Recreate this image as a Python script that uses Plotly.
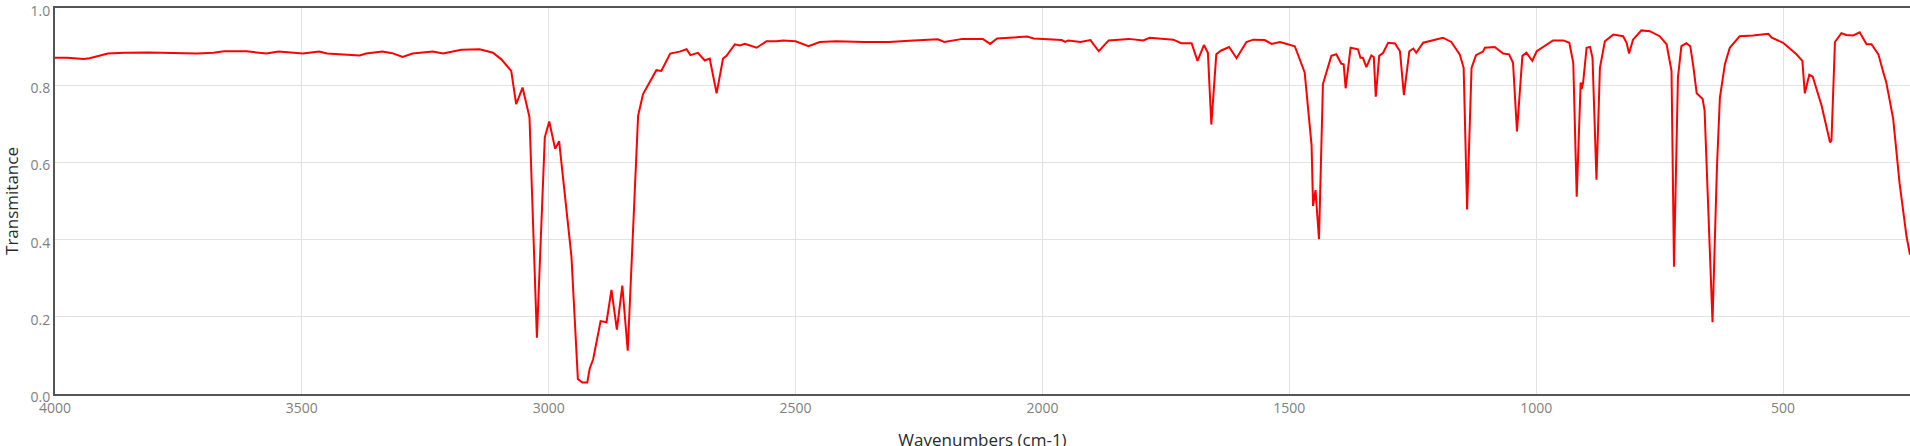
import plotly.graph_objects as go

wavenumbers = [
    4000, 3975, 3942, 3930, 3893, 3860, 3811, 3761, 3712, 3679, 3658, 3613, 3572, 3547, 3498, 3465,
    3449, 3383, 3370, 3337, 3317, 3296, 3276, 3235, 3214, 3177, 3140, 3113, 3096, 3076, 3066, 3053,
    3039, 3024, 3008, 2999, 2987, 2979, 2954, 2941, 2932, 2922, 2917, 2910, 2895, 2883, 2873, 2862,
    2851, 2840, 2819, 2809, 2796, 2782, 2772, 2754, 2735, 2721, 2713, 2698, 2684, 2674, 2660, 2647,
    2640, 2623, 2613, 2603, 2579, 2559, 2539, 2525, 2500, 2474, 2451, 2418, 2360, 2311, 2261, 2212,
    2199, 2162, 2121, 2106, 2092, 2031, 2018, 1989, 1961, 1954, 1948, 1923, 1903, 1886, 1866, 1825,
    1796, 1783, 1735, 1719, 1698, 1686, 1673, 1665, 1658, 1648, 1638, 1622, 1607, 1587, 1573, 1550,
    1536, 1519, 1489, 1469, 1455, 1452, 1447, 1440, 1432, 1415, 1405, 1395, 1390, 1386, 1376, 1361,
    1356, 1351, 1344, 1334, 1329, 1325, 1318, 1310, 1300, 1286, 1276, 1268, 1257, 1249, 1243, 1229,
    1189, 1172, 1155, 1147, 1140, 1131, 1122, 1108, 1104, 1084, 1067, 1055, 1047, 1039, 1028, 1020,
    1008, 999, 979, 966, 945, 933, 925, 918, 910, 908, 905, 898, 891, 886, 878, 871,
    861, 844, 824, 817, 812, 804, 787, 770, 750, 736, 726, 721, 713, 706, 696, 688,
    682, 675, 663, 659, 643, 634, 628, 618, 608, 588, 561, 530, 523, 500, 473, 461,
    456, 447, 440, 422, 405, 402, 395, 382, 372, 358, 345, 331, 321, 307, 297, 291,
    284, 277, 264, 250, 243,
]

transmitance = [
    0.871, 0.871, 0.868, 0.870, 0.882, 0.884, 0.885, 0.884, 0.882, 0.884, 0.888, 0.888, 0.882, 0.887, 0.882, 0.887,
    0.882, 0.877, 0.882, 0.887, 0.883, 0.873, 0.882, 0.887, 0.882, 0.892, 0.893, 0.884, 0.867, 0.837, 0.751, 0.794,
    0.717, 0.146, 0.665, 0.706, 0.635, 0.655, 0.356, 0.039, 0.030, 0.030, 0.066, 0.090, 0.189, 0.186, 0.270, 0.167,
    0.281, 0.112, 0.721, 0.777, 0.807, 0.839, 0.837, 0.882, 0.887, 0.893, 0.878, 0.884, 0.864, 0.869, 0.779, 0.869,
    0.876, 0.906, 0.903, 0.907, 0.897, 0.914, 0.914, 0.916, 0.914, 0.901, 0.912, 0.914, 0.912, 0.912, 0.916, 0.919,
    0.912, 0.920, 0.920, 0.907, 0.921, 0.926, 0.921, 0.919, 0.917, 0.912, 0.916, 0.912, 0.917, 0.888, 0.916, 0.920,
    0.916, 0.923, 0.918, 0.909, 0.909, 0.863, 0.904, 0.884, 0.698, 0.880, 0.890, 0.899, 0.870, 0.912, 0.918, 0.917,
    0.907, 0.912, 0.901, 0.833, 0.644, 0.487, 0.528, 0.401, 0.803, 0.876, 0.880, 0.856, 0.854, 0.792, 0.897, 0.893,
    0.871, 0.871, 0.847, 0.877, 0.873, 0.770, 0.876, 0.884, 0.910, 0.908, 0.888, 0.774, 0.888, 0.895, 0.884, 0.910,
    0.923, 0.912, 0.880, 0.845, 0.478, 0.845, 0.878, 0.887, 0.897, 0.899, 0.882, 0.880, 0.858, 0.680, 0.876, 0.884,
    0.863, 0.888, 0.906, 0.916, 0.916, 0.910, 0.858, 0.511, 0.807, 0.790, 0.807, 0.897, 0.899, 0.871, 0.555, 0.845,
    0.914, 0.931, 0.927, 0.910, 0.882, 0.918, 0.942, 0.940, 0.927, 0.906, 0.837, 0.330, 0.820, 0.901, 0.909, 0.901,
    0.850, 0.779, 0.764, 0.734, 0.186, 0.588, 0.768, 0.854, 0.897, 0.927, 0.929, 0.933, 0.923, 0.910, 0.880, 0.863,
    0.779, 0.827, 0.822, 0.747, 0.652, 0.657, 0.912, 0.935, 0.930, 0.929, 0.937, 0.906, 0.906, 0.880, 0.833, 0.807,
    0.760, 0.712, 0.545, 0.408, 0.361,
]

x_tick_values = [4000, 3500, 3000, 2500, 2000, 1500, 1000, 500]
y_tick_values = [0.0, 0.2, 0.4, 0.6, 0.8, 1.0]

fig = go.Figure()
fig.add_trace(go.Scatter(
    x=wavenumbers,
    y=transmitance,
    mode="lines",
    line=dict(color="#ff0000", width=2),
    showlegend=False,
))

axis_common = dict(
    showgrid=True,
    gridcolor="#e2e2e2",
    gridwidth=1,
    showline=True,
    linecolor="#555555",
    linewidth=2,
    mirror=True,
    zeroline=False,
    ticks="",
    ticklabeloverflow="allow",
    tickfont=dict(family="Open Sans", size=14, color="#808080"),
    title_font=dict(family="Open Sans", size=17, color="#2a2a2a"),
)

fig.update_xaxes(
    range=[4000, 243],
    tickvals=x_tick_values,
    title_text="Wavenumbers (cm-1)",
    title_standoff=18,
    **axis_common,
)
fig.update_yaxes(
    range=[0, 1],
    tickvals=y_tick_values,
    tickformat=".1f",
    ticklabelshift=3,
    title_text="Transmitance",
    **axis_common,
)

fig.update_layout(
    width=1910,
    height=470,
    margin=dict(l=55, r=0, t=8, b=76, autoexpand=False),
    paper_bgcolor="white",
    plot_bgcolor="white",
    font=dict(family="Open Sans"),
)

fig.write_html(
    "out.html",
    config={"displayModeBar": False},
    post_script="document.body.style.margin='0px';document.body.style.overflow='hidden';",
)
